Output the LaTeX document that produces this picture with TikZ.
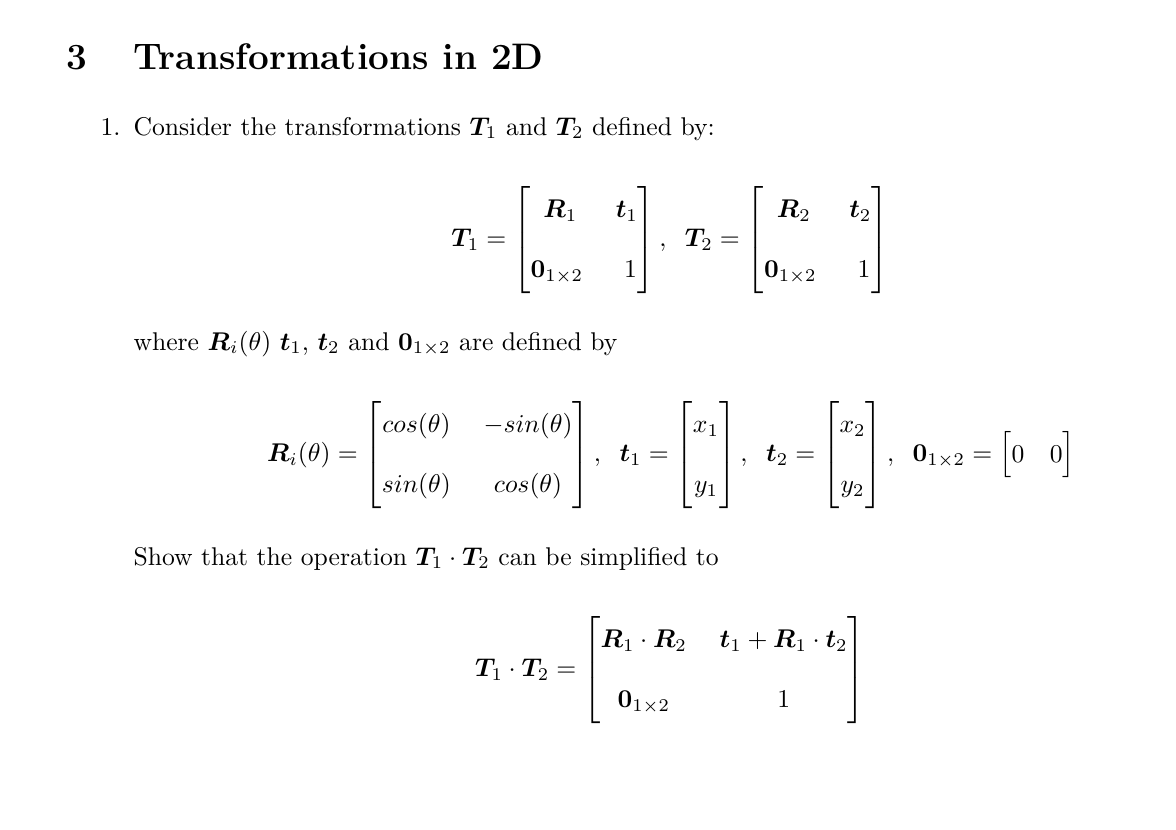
\documentclass[tikz,border=0pt]{standalone}
\usepackage{amsmath,bm}
\begin{document}
\begin{tikzpicture}[x=0.39pt,y=-0.39pt,txt/.style={anchor=base west,inner sep=0pt},eq/.style={anchor=center,inner sep=0pt}]
\useasboundingbox (0,0) rectangle (1176,830);
\node[txt,font=\Large\bfseries] (sec) at (66,70) {3};
\node[txt,font=\Large\bfseries] (title) at (133,70) {Transformations in 2D};
\node[txt] (num) at (100,135) {1.};
\node[txt] (l1) at (133,135) {Consider the transformations $\bm{T}_1$ and $\bm{T}_2$ defined by:};
\node[eq] (e1) at (670,240) {$\bm{T}_1=\begin{bmatrix}\rule[-6pt]{0pt}{18pt}\;\bm{R}_1 &\; \bm{t}_1\\[8pt] \rule[-6pt]{0pt}{18pt}\bm{0}_{1\times2} &\;\; 1\end{bmatrix},\;\; \bm{T}_2=\begin{bmatrix}\rule[-6pt]{0pt}{18pt}\;\bm{R}_2 &\; \bm{t}_2\\[8pt] \rule[-6pt]{0pt}{18pt}\bm{0}_{1\times2} &\;\; 1\end{bmatrix}$};
\node[txt] (l2) at (133,350) {where $\bm{R}_i(\theta)$ $\bm{t}_1$, $\bm{t}_2$ and $\bm{0}_{1\times2}$ are defined by};
\node[eq] (e2) at (671,455) {$\bm{R}_i(\theta)=\begin{bmatrix}\rule[-6pt]{0pt}{18pt}cos(\theta) &\; -sin(\theta)\\[8pt] \rule[-6pt]{0pt}{18pt}sin(\theta) &\; cos(\theta)\end{bmatrix},\;\; \bm{t}_1=\begin{bmatrix}\rule[-6pt]{0pt}{18pt}x_1\\[8pt] \rule[-6pt]{0pt}{18pt}y_1\end{bmatrix},\;\; \bm{t}_2=\begin{bmatrix}\rule[-6pt]{0pt}{18pt}x_2\\[8pt] \rule[-6pt]{0pt}{18pt}y_2\end{bmatrix},\;\; \bm{0}_{1\times2}=\begin{bmatrix}\rule[-6pt]{0pt}{18pt}0 & 0\end{bmatrix}$};
\node[txt] (l3) at (133,565) {Show that the operation $\bm{T}_1\cdot\bm{T}_2$ can be simplified to};
\node[eq] (e3) at (670,670) {$\bm{T}_1\cdot\bm{T}_2=\begin{bmatrix}\rule[-6pt]{0pt}{18pt}\bm{R}_1\cdot\bm{R}_2 &\; \bm{t}_1+\bm{R}_1\cdot\bm{t}_2\\[8pt] \rule[-6pt]{0pt}{18pt}\bm{0}_{1\times2} &\; 1\end{bmatrix}$};
\end{tikzpicture}
\end{document}
